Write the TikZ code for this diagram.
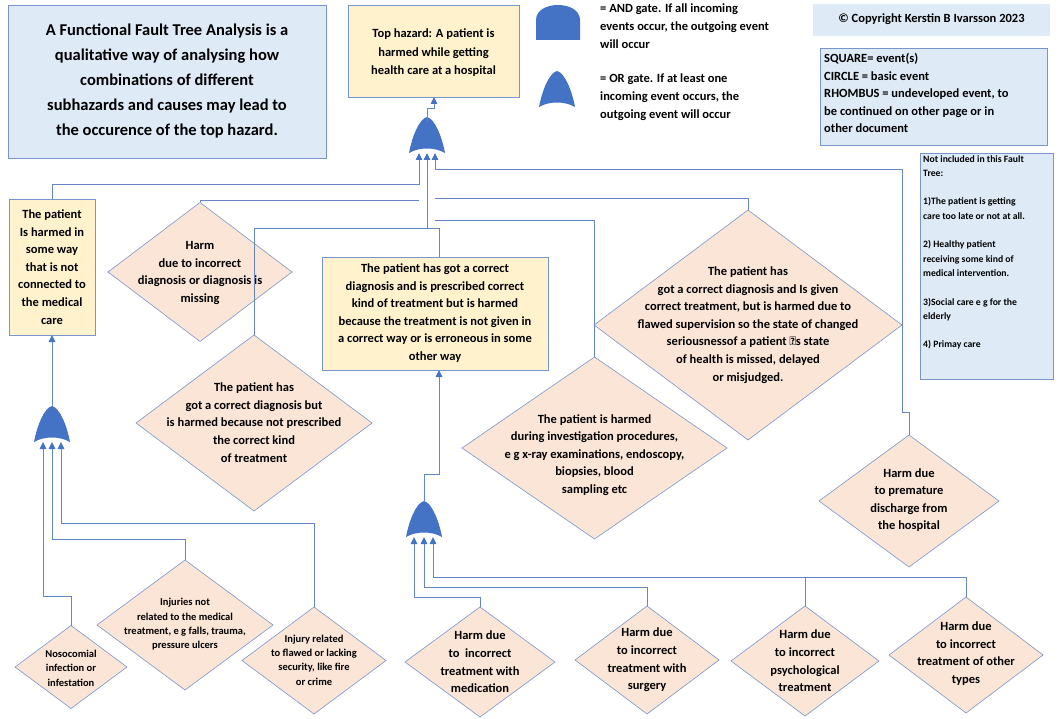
\documentclass[tikz,border=0pt]{standalone}
\usepackage{fontspec}
\setmainfont{Carlito}
\usetikzlibrary{arrows.meta,shapes.geometric}
\definecolor{ln}{RGB}{100,134,200}
\definecolor{gb}{RGB}{68,114,196}
\definecolor{dfill}{RGB}{251,229,214}
\definecolor{yfill}{RGB}{255,242,204}
\definecolor{bfill}{RGB}{222,235,247}
\definecolor{bd}{RGB}{120,150,205}
\begin{document}
\begin{tikzpicture}[x=1pt,y=-1pt,
  con/.style={draw=ln,line width=0.9pt},
  arr/.style={con,-{Triangle[width=6.5pt,length=7pt,fill=gb,color=gb]}},
  dia/.style={diamond,draw=bd,fill=dfill,line width=0.6pt,inner sep=0,outer sep=0},
  ybox/.style={draw=bd,fill=yfill,line width=0.8pt,inner sep=0,outer sep=0},
  bbox/.style={draw=bd,fill=bfill,line width=0.8pt,inner sep=0,outer sep=0},
  t/.style={align=center,inner sep=0,font=\bfseries\fontsize{12.5}{17.6}\selectfont},
  ts/.style={align=center,inner sep=0,font=\bfseries\fontsize{10.5}{14.4}\selectfont},
  orgate/.pic={\fill[gb] (-18,0) .. controls (-15,-16) and (-8,-34) .. (0,-36)
     .. controls (8,-34) and (15,-16) .. (18,0) .. controls (8,-6) and (-8,-6) .. cycle;},
  andgate/.pic={\fill[gb] (-22,0) -- (-22,-20) .. controls (-22,-40) and (22,-40) .. (22,-20) -- (22,0) -- cycle;}
]
\useasboundingbox (0,0) rectangle (1059,719);
\fill[white] (0,0) rectangle (1059,719);

% boxes
\node[bbox,minimum width=318,minimum height=153] (title) at (167,81.5) {};
\node[t,font=\bfseries\fontsize{16.5}{25.2}\selectfont] (titlet) at (167,81) {A Functional Fault Tree Analysis is a\\qualitative way of analysing how\\combinations of different\\subhazards and causes may lead to\\the occurence of the top hazard.};
\node[ybox,minimum width=171,minimum height=92] (top) at (433.5,51) {};
\node[t,font=\bfseries\fontsize{12.5}{18.5}\selectfont] at (433.5,53) {Top hazard: A patient is\\harmed while getting\\health care at a hospital};

% legend
\pic at (558,40) {andgate};
\node[t,align=left,anchor=north west] (andt) at (600,4) {= AND gate. If all incoming\\events occur, the outgoing event\\will occur};
\pic at (557,107) {orgate};
\node[t,align=left,anchor=north west] (ort) at (600,74) {= OR gate. If at least one\\incoming event occurs, the\\outgoing event will occur};
\node[bbox,draw=none,minimum width=237,minimum height=32] (copy) at (931.5,20) {};
\node[t] at (931.5,19) {\textcopyright{} Copyright Kerstin B Ivarsson 2023};
\node[bbox,minimum width=227,minimum height=97] (leg) at (933.5,96.5) {};
\node[t,align=left,anchor=north west] at (824,53) {SQUARE= event(s)\\CIRCLE = basic event\\RHOMBUS = undeveloped event, to\\be continued on other page or in\\other document};
\node[bbox,minimum width=133,minimum height=226] (notinc) at (986.5,266) {};
\node[ts,align=left,anchor=north west,font=\bfseries\fontsize{9.7}{14.3}\selectfont] at (923,155) {Not included in this Fault\\Tree:\\[14.3pt]1)The patient is getting\\care too late or not at all.\\[14.3pt]2) Healthy patient\\receiving some kind of\\medical intervention.\\[14.3pt]3)Social care e g for the\\elderly\\[14.3pt]4) Primay care};

% gates
\pic at (427,153) {orgate};
\pic at (424,537) {orgate};
\pic at (52,442) {orgate};
\coordinate (g1) at (427,122); \coordinate (g1a) at (419,153); \coordinate (g1b) at (427,153); \coordinate (g1c) at (435,153);
\coordinate (g2) at (424,502); \coordinate (g2a) at (414,537); \coordinate (g2b) at (424,537); \coordinate (g2c) at (433,537);
\coordinate (g3) at (52,406); \coordinate (g3a) at (43,442); \coordinate (g3b) at (52,442); \coordinate (g3c) at (61,442);

% event boxes
\node[ybox,minimum width=86,minimum height=136] (lb) at (52,267) {};
\node[t] at (52,267) {The patient\\Is harmed in\\some way\\that is not\\connected to\\the medical\\care};
\node[ybox,minimum width=226,minimum height=113] (mb) at (435,313.5) {};
\node[t] at (435,313) {The patient has got a correct\\diagnosis and is prescribed correct\\kind of treatment but is harmed\\because the treatment is not given in\\a correct way or is erroneous in some\\other way};

% diamonds
\node[dia,minimum width=184,minimum height=139] (d1) at (200,272) {};
\node[t] at (200,273) {Harm\\due to incorrect\\diagnosis or diagnosis is\\missing};
\node[dia,minimum width=236,minimum height=176] (d2) at (254,423) {};
\node[t] at (254,422.5) {The patient has\\got a correct diagnosis but\\is harmed because not prescribed\\the correct kind\\of treatment};
\node[dia,minimum width=265,minimum height=182] (d3) at (594.5,448) {};
\node[t] at (594.5,455) {The patient is harmed\\during investigation procedures,\\e g x-ray examinations, endoscopy,\\biopsies, blood\\sampling etc};
\node[dia,minimum width=308,minimum height=230] (d4) at (748,325) {};
\node[t] at (748,325) {The patient has\\got a correct diagnosis and Is given\\correct treatment, but is harmed due to\\flawed supervision so the state of changed\\seriousnessof a patient\'{}s state\\of health is missed, delayed\\or misjudged.};
\node[dia,minimum width=180,minimum height=132] (d5) at (909,501) {};
\node[t] at (909,500) {Harm due\\to premature\\discharge from\\the hospital};

\node[dia,minimum width=112,minimum height=83] (l1) at (71,667) {};
\node[ts] at (71,668) {Nosocomial\\infection or\\infestation};
\node[dia,minimum width=176,minimum height=130] (l2) at (185,625) {};
\node[ts] at (185,624.5) {Injuries not\\related to the medical\\treatment, e g falls, trauma,\\pressure ulcers};
\node[dia,minimum width=144,minimum height=107] (l3) at (314,660.5) {};
\node[ts] at (314,660) {Injury related\\to flawed or lacking\\security, like fire\\or crime};

\node[dia,minimum width=150,minimum height=110] (b1) at (480,662) {};
\node[t] at (480,662) {Harm due\\to\ \ incorrect\\treatment with\\medication};
\node[dia,minimum width=144,minimum height=108] (b2) at (647,660) {};
\node[t] at (647,660) {Harm due\\to incorrect\\treatment with\\surgery};
\node[dia,minimum width=148,minimum height=110] (b3) at (805,661) {};
\node[t] at (805,661) {Harm due\\to incorrect\\psychological\\treatment};
\node[dia,minimum width=154,minimum height=116] (b4) at (966,655) {};
\node[t] at (966,653.5) {Harm due\\to incorrect\\treatment of other\\types};

% connectors to top
\draw[arr] (g1) -- ++(0,-14) -| (top.south -| 434,0);
\draw[arr] (lb.north) |- (419,184) -- (g1a);
\draw[con] (d1.north) |- (419,200);
\draw[arr] (d2.north) |- (427,228) -- (g1b);
\draw[con] (mb.north -| 439,0) |- (427,228);
\draw[arr] (d5.north) -- ++(0,-23) -| (902,169) -| (g1c);
\draw[con] (d4.north) |- (435,198);
\draw[con] (d3.north) |- (435,220);

% middle gate
\draw[arr] (g2) -- ++(0,-28) -| (mb.south -| 439,0);
\draw[arr] (b1.north) -- ++(0,-10) -| (g2a);
\draw[arr] (b2.north) -- ++(0,-19) -| (g2b);
\draw[arr] (b4.north) |- (433,577) -- (g2c);
\draw[con] (b3.north) -- (805,577);

% left gate
\draw[arr] (g3) -- (lb.south);
\draw[arr] (l1.north) -- ++(0,-29) -| (g3a);
\draw[arr] (l2.north) -- ++(0,-21) -| (g3b);
\draw[arr] (l3.north) -- ++(0,-84) -| (g3c);
\end{tikzpicture}
\end{document}
